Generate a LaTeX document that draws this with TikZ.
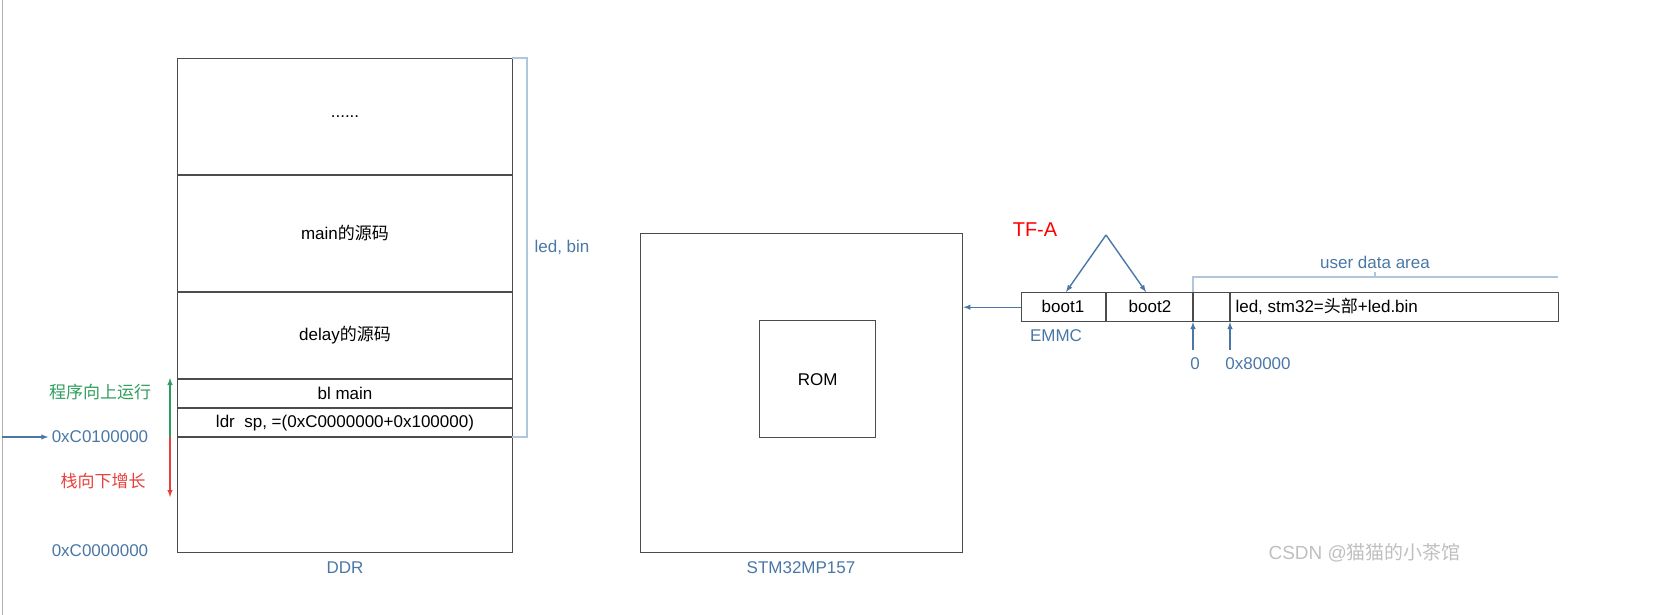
\documentclass[tikz,border=0pt]{standalone}
\usepackage{fontspec}
\setmainfont{Liberation Sans}
\newfontfamily\cjk{Noto Sans CJK SC}
\definecolor{sb}{HTML}{4A78A6}
\definecolor{lsb}{HTML}{AFC6DC}
\definecolor{gr}{HTML}{2E9E5E}
\definecolor{rd}{HTML}{E8403A}
\begin{document}
\begin{tikzpicture}[x=1pt,y=-1pt,
  box/.style={draw=black!70,line width=1.4pt},
  lbl/.style={font=\fontsize{17}{19}\selectfont},
  blu/.style={text=sb},
  ar/.style={-latex,draw=sb,line width=1.4pt},
]
\useasboundingbox (0,0) rectangle (1656,615);
\draw[gray!60] (2,0) -- (2,615);
% DDR
\node[box,minimum width=335pt,minimum height=494pt,anchor=north west] (ddr) at (177,58) {};
\foreach \y in {175,292,379,408,437} \draw[black!70,line width=1.4pt] (177,\y) -- (512,\y);
\node[lbl] (d1) at (345,117) {......};
\node[lbl] (d2) at (345,233) {main{\cjk 的源码}};
\node[lbl] (d3) at (345,335) {delay{\cjk 的源码}};
\node[lbl] (d4) at (345,393) {bl main};
\node[lbl] (d5) at (345,423) {ldr\ \ sp, =(0xC0000000+0x100000)};
\node[lbl,blu] (ddrl) at (345,568) {DDR};
\draw[lsb,line width=1.4pt] (512,58) -- (527,58) -- (527,437) -- (512,437);
\node[lbl,blu] (ledbin) at (562,247) {led, bin};
% left labels
\coordinate (ls) at (2,437);
\node[lbl,blu] (a1) at (100,437) {0xC0100000};
\draw[ar] (ls) -- (a1.west);
\node[lbl,text=gr] (up) at (100,392) {\cjk 程序向上运行};
\node[lbl,text=rd] (dn) at (103,481) {\cjk 栈向下增长};
\coordinate (m) at (170,437);
\coordinate (mu) at (170,378);
\coordinate (md) at (170,497);
\draw[-latex,gr,line width=1.4pt] (m) -- (mu);
\draw[-latex,rd,line width=1.4pt] (m) -- (md);
\node[lbl,blu] (a0) at (100,551) {0xC0000000};
% STM
\node[box,minimum width=322pt,minimum height=319pt,anchor=north west] (stm) at (640,233) {};
\node[box,minimum width=116pt,minimum height=117pt,anchor=north west] (rom) at (759,320) {};
\node[lbl] at (rom.center) {ROM};
\node[lbl,blu] (stml) at (801,568) {STM32MP157};
% EMMC
\node[box,minimum width=537pt,minimum height=29pt,anchor=north west] (emmc) at (1021,292) {};
\foreach \x in {1106,1193,1230} \draw[black!70,line width=1.4pt] (\x,292) -- (\x,321);
\node[lbl] (b1) at (1063,306) {boot1};
\node[lbl] (b2) at (1150,306) {boot2};
\node[lbl,anchor=west] (led) at (1232,306) {led, stm32={\cjk 头部}+led.bin};
\draw[ar] (emmc.west) -- (stm.east |- emmc.west);
\node[lbl,blu] (el) at (1056,336) {EMMC};
\node[font=\fontsize{20}{22}\selectfont,text=red] (tfa) at (1035,230) {TF-A};
\coordinate (apex) at (1106,235);
\draw[ar] (apex) -- (1066,292);
\draw[ar] (apex) -- (1146,292);
\draw[lsb,line width=1.4pt] (1193,292) -- (1193,277) -- (1558,277);
\draw[lsb,line width=1.4pt] (1375,277) -- (1375,272);
\node[lbl,blu] (uda) at (1375,262) {user data area};
\node[lbl,blu] (z) at (1195,364) {0};
\node[lbl,blu] (h) at (1258,364) {0x80000};
\draw[ar] (1193,350) -- (1193,322);
\draw[ar] (1230,350) -- (1230,322);
\node[font=\fontsize{19}{21}\selectfont,text=gray!50,anchor=west] (wm) at (1265,553) {CSDN @{\cjk 猫猫的小茶馆}};
\end{tikzpicture}
\end{document}
